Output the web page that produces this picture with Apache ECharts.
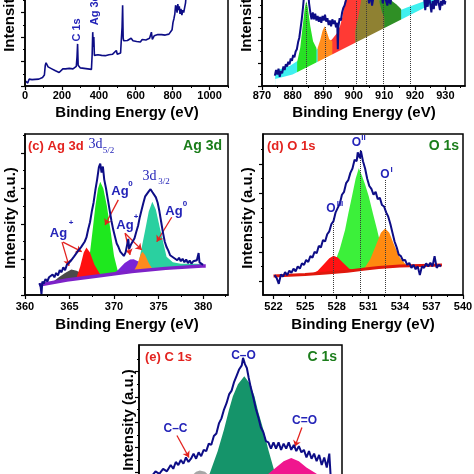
<!DOCTYPE html>
<html><head><meta charset="utf-8">
<script src="https://cdn.jsdelivr.net/npm/echarts/dist/echarts.min.js"></script>
<style>html,body{margin:0;padding:0;background:#fff}#c{width:474px;height:474px}</style>
</head><body><div id="c"></div>
<script>
// ===================== DATA =====================
// (a) survey spectrum [binding energy eV, intensity a.u.]
const surveySpectrum = [[0,0.22],[8,0.3],[15,0.12],[22,0.28],[30,0.2],[38,0.26],[45,0.2],[55,0.27],[65,0.3],[75,0.28],[85,0.34],[95,0.35],[105,0.45],[110,0.85],[114,0.95],[118,0.88],[125,0.78],[135,0.74],[145,0.7],[155,0.66],[165,0.62],[175,0.6],[185,0.55],[195,0.6],[205,0.7],[212,0.75],[220,0.7],[230,0.74],[240,0.72],[250,0.76],[260,0.7],[270,0.75],[278,0.8],[282,1.2],[285,1.72],[288,0.85],[292,0.78],[300,0.74],[310,0.76],[320,0.72],[330,0.74],[340,0.7],[350,0.72],[360,0.68],[364,1.3],[367,2.2],[370,1.6],[373,2.0],[376,1.25],[385,1.22],[395,1.28],[405,1.2],[415,1.25],[425,1.2],[435,1.24],[445,1.22],[455,1.28],[465,1.25],[475,1.3],[485,1.26],[495,1.45],[500,1.3],[510,1.3],[518,1.35],[522,1.9],[526,2.4],[529,3.3],[532,1.95],[535,1.85],[545,1.8],[555,1.86],[565,1.82],[575,1.95],[585,1.85],[595,1.9],[605,1.82],[615,1.88],[625,1.8],[635,1.9],[645,1.85],[655,1.88],[665,1.82],[675,1.95],[685,2.2],[690,1.9],[700,2.05],[710,2.0],[720,2.1],[730,2.05],[740,2.1],[750,2.02],[760,2.08],[770,2.05],[780,2.12],[790,2.1],[797,2.3],[802,2.6],[807,2.75],[812,2.95],[816,3.3],[820,3.2],[824,3.0],[828,3.35],[832,3.1],[836,3.25],[840,2.95],[845,3.15],[850,2.9],[855,3.1],[860,3.0],[865,3.2],[870,3.4],[875,3.9],[880,5],[885,5.5]];
const surveyXTicks = [0,200,400,600,800,1000];
const surveyXMinor = [100,300,500,700,900,1100];

// (b) Ce 3d
const ceSpectrum = [[874.2,0.45],[874.6,0.7],[875,0.5],[875.4,0.75],[875.8,0.4],[876.2,0.65],[876.6,0.55],[877,0.85],[877.4,0.7],[877.8,0.95],[878.2,0.85],[878.6,1.05],[879,0.95],[879.4,1.2],[879.8,1.1],[880.2,1.35],[880.6,1.25],[881,1.5],[881.4,1.6],[881.8,1.9],[882.2,2.1],[882.6,2.5],[883,2.9],[883.4,3.4],[883.8,4.0],[884.2,4.6],[884.6,4.8],[885,4.3],[885.4,3.6],[885.8,3.2],[886.2,2.9],[886.6,3.2],[887,2.9],[887.4,3.15],[887.8,2.85],[888.2,3.05],[888.6,2.8],[889,3.0],[889.4,2.75],[889.8,3.05],[890.2,2.85],[890.6,3.1],[891,2.8],[891.4,2.95],[891.8,2.65],[892.2,2.85],[892.6,2.6],[893,2.9],[893.4,2.7],[893.8,2.85],[894.2,2.55],[894.6,2.75],[894.8,1.6],[895,2.6],[895.4,2.95],[895.8,2.85],[896.2,3.2],[896.6,3.4],[897,3.5],[897.4,3.7],[897.8,4.0],[898.5,4.6],[899,5],[903,5],[903.6,4.3],[904,3.8],[904.5,4.2],[905,3.6],[905.5,4.0],[906,3.5],[906.5,3.9],[907,4.4],[908,5],[909,4.2],[909.5,3.6],[910,4.0],[911,3.5],[911.5,3.9],[912,3.55],[912.5,4.1],[913.5,5],[922,5],[923,3.9],[923.4,3.3],[923.8,3.8],[924.2,3.45],[924.6,4.0],[925,3.6],[925.4,3.2],[925.8,3.7],[926.2,3.35],[926.6,3.9],[927,3.5],[927.4,4.1],[927.8,3.6],[928.2,3.3],[928.6,3.7],[929,3.5],[929.4,3.9],[929.8,3.55],[930,3.7]];
const ceBgTop = [[874.3,0.66],[879.2,0.88],[884.6,1.35],[890.1,1.76],[895.5,2.05],[901,2.4],[906.4,2.76],[911.9,3.12],[917.4,3.42],[922.8,3.68],[929,4.05],[936.4,4.5]];
const ceBgBottom = [[874.3,0.3],[880,0.5],[936.4,4.3]];
const cePeakV0 = [[881.5,1.05],[882.5,1.65],[883.3,2.6],[884,3.4],[884.5,3.7],[885,3.4],[885.8,2.6],[886.7,1.95],[887.8,1.65]];
const cePeakV1 = [[888.2,1.65],[889,1.98],[889.8,2.4],[890.5,2.6],[891.2,2.35],[892,2.03],[893,1.95]];
const cePeakV2 = [[891.5,1.85],[893,2.05],[894.5,2.3],[895.5,2.6],[896.3,3.0],[897,3.6],[897.7,4.3],[898.5,5],[902,5],[903,4.5],[904,3.5],[905,2.85]];
const cePeakU0 = [[900.5,2.4],[901.5,3.0],[902.5,3.8],[903.5,4.6],[904.5,5],[907,5],[907.8,4.2],[908.5,3.6],[909.3,3.2],[910,3.0]];
const cePeakU1 = [[905,2.75],[906.5,3.3],[908,3.7],[909.5,3.85],[911,3.8],[912.5,3.7],[914,3.55],[915.5,3.35]];
const ceDropX = [884.4,890.6,900.8,904.0,909.5,918.4];
const ceDropTop = [3.6,2.6,4.5,4.5,4.5,3.5];
const ceXTicks = [870,880,890,900,910,920,930];
const ceXMinor = [875,885,895,905,915,925,935];

// (c) Ag 3d
const agSpectrum = [[361.6,0.33],[361.75,0.25],[361.85,0.02],[361.95,0.38],[362.1,0.32],[362.3,0.45],[362.5,0.38],[362.7,0.5],[362.9,0.45],[363.1,0.58],[363.3,0.5],[363.5,0.62],[363.7,0.55],[363.9,0.7],[364.1,0.64],[364.3,0.78],[364.5,0.7],[364.7,0.85],[364.9,0.8],[365.1,0.95],[365.3,0.92],[365.5,1.08],[365.7,1.05],[365.9,1.22],[366.1,1.2],[366.3,1.35],[366.5,1.32],[366.7,1.5],[366.9,1.62],[367.1,1.85],[367.3,2.05],[367.5,2.35],[367.7,2.6],[367.9,2.95],[368.1,3.25],[368.3,3.6],[368.45,3.7],[368.6,3.45],[368.75,3.62],[368.9,3.25],[369.1,3.0],[369.3,2.7],[369.5,2.4],[369.7,2.1],[369.9,1.85],[370.1,1.65],[370.3,1.45],[370.5,1.35],[370.7,1.22],[370.9,1.18],[371.1,1.1],[371.3,1.2],[371.5,1.25],[371.6,1.58],[371.7,1.3],[371.9,1.42],[372.1,1.45],[372.3,1.6],[372.5,1.78],[372.7,1.95],[372.9,2.2],[373.1,2.4],[373.3,2.6],[373.5,2.78],[373.7,2.85],[373.9,2.92],[374.1,2.98],[374.3,2.9],[374.5,2.95],[374.7,2.75],[374.9,2.6],[375.1,2.35],[375.3,2.05],[375.5,1.75],[375.7,1.5],[375.9,1.35],[376.1,1.25],[376.3,1.12],[376.5,1.15],[376.7,1.05],[376.9,1.1],[377.1,0.98],[377.3,1.05],[377.5,0.95],[377.7,1.02],[377.9,0.92],[378.1,1.0],[378.3,0.9],[378.5,0.97],[378.7,0.88],[378.9,0.95],[379.1,0.9],[379.3,0.98],[379.5,1.18],[379.6,0.92],[379.8,0.9],[380.0,0.85]];
const agBackground = [[361.6,0.28],[364.7,0.42],[368.4,0.54],[372.0,0.66],[375.8,0.75],[379.9,0.82],[380.3,0.82]];
const agPlus52 = [[363.2,0.38],[363.8,0.5],[364.5,0.62],[365.2,0.72],[365.8,0.68],[366.4,0.6],[367.2,0.52]];
const agPlus52b = [[365.8,0.5],[366.2,0.8],[366.6,1.2],[366.9,1.34],[367.3,1.2],[367.8,0.85],[368.4,0.6],[368.8,0.54]];
const agZero52 = [[366.9,0.55],[367.3,1.2],[367.6,1.83],[367.9,2.5],[368.2,3.0],[368.45,3.19],[368.8,3.0],[369.2,2.5],[369.6,1.83],[370.0,1.1],[370.4,0.7],[370.9,0.6]];
const agPlus32 = [[369.8,0.56],[370.5,0.72],[371.2,0.9],[371.8,1.0],[372.2,1.01],[372.8,0.94],[373.4,0.82],[374.0,0.74]];
const agPlus32b = [[372.2,0.66],[372.6,0.85],[373.0,1.15],[373.2,1.22],[373.5,1.12],[373.9,0.9],[374.3,0.74]];
const agZero32 = [[372.5,0.66],[372.9,1.08],[373.5,1.83],[373.9,2.35],[374.3,2.63],[374.7,2.4],[375.2,1.83],[375.9,1.08],[376.6,0.92],[377.5,0.88],[379,0.88],[379.9,0.87]];
const agArrows = [[[364.16,1.49],[364.94,0.82]],[[364.27,1.49],[366.37,1.22]],[[370.48,2.68],[368.99,1.97]],[[371.24,1.74],[371.80,1.13]],[[371.24,1.74],[373.11,1.27]],[[376.48,2.19],[374.80,1.50]]];
const agXTicks = [360,365,370,375,380];
const agXMinor = [362.5,367.5,372.5,377.5,382.5];

// (d) O 1s
const oSpectrum = [[522.1,1.2],[522.3,1.1],[522.5,0.9],[522.7,1.22],[522.9,1.15],[523.1,1.3],[523.3,1.2],[523.5,1.35],[523.7,1.28],[523.9,1.42],[524.1,1.33],[524.3,1.5],[524.5,1.42],[524.7,1.6],[524.9,1.55],[525.1,1.72],[525.3,1.65],[525.5,1.85],[525.7,1.8],[525.9,2.0],[526.1,1.95],[526.3,2.2],[526.5,2.15],[526.7,2.4],[526.9,2.35],[527.1,2.6],[527.3,2.7],[527.5,2.95],[527.7,3.05],[527.9,3.35],[528.1,3.5],[528.3,3.65],[528.5,3.95],[528.7,4.05],[528.9,4.35],[529.1,4.45],[529.3,4.7],[529.5,4.85],[529.7,5.15],[529.9,5.1],[530.0,5.4],[530.2,5.2],[530.3,5.45],[530.5,5.1],[530.7,4.85],[530.9,4.5],[531.1,4.25],[531.3,4.15],[531.5,3.95],[531.7,4.05],[531.9,3.8],[532.1,3.85],[532.3,3.6],[532.5,3.55],[532.7,3.35],[532.9,3.2],[533.1,2.95],[533.3,2.65],[533.5,2.35],[533.7,2.15],[533.9,1.9],[534.1,1.85],[534.3,1.7],[534.5,1.72],[534.7,1.55],[534.9,1.62],[535.1,1.45],[535.3,1.55],[535.5,1.4],[535.7,1.5],[535.9,1.2],[536.1,1.5],[536.3,1.45],[536.5,1.6],[536.7,1.5],[536.9,1.62],[537.1,1.5],[537.3,1.85],[537.5,1.45],[537.7,1.55],[537.9,1.5]];
const oBackground = [[522,1.17],[525,1.22],[527,1.27],[529,1.33],[530.5,1.4],[532,1.46],[534,1.51],[536,1.53],[538,1.55]];
const oIII = [[525.5,1.22],[526.2,1.35],[526.8,1.58],[527.3,1.78],[527.7,1.86],[528.1,1.8],[528.6,1.62],[529.2,1.42],[529.8,1.35]];
const oII = [[527.2,1.3],[527.8,1.61],[528.3,2.1],[528.8,2.75],[529.1,3.3],[529.45,3.89],[529.8,4.5],[530.1,4.86],[530.4,4.6],[530.7,4.3],[531.05,3.89],[531.45,3.3],[531.84,2.75],[532.2,2.2],[532.63,1.61],[533.1,1.45]];
const oI = [[530.6,1.42],[531.2,1.75],[531.7,2.2],[532.2,2.65],[532.6,2.8],[533.0,2.65],[533.5,2.2],[534.0,1.8],[534.6,1.55],[535.3,1.5]];
const oDropX = [527.7,530.2,532.6];
const oDropTop = [3.19,5.49,4.46];
const oXTicks = [522,525,528,531,534,537,540];
const oXMinor = [523.5,526.5,529.5,532.5,535.5,538.5];

// (e) C 1s
const cSpectrum = [[281.0,-0.15],[281.3,0.05],[281.6,-0.05],[281.9,0.15],[282.2,0.05],[282.5,0.3],[282.7,0.15],[282.9,0.42],[283.1,0.3],[283.3,0.5],[283.5,0.35],[283.7,0.6],[283.9,0.42],[284.1,0.55],[284.3,0.75],[284.5,0.55],[284.7,0.8],[284.9,0.65],[285.1,0.9],[285.3,0.85],[285.5,1.15],[285.7,1.1],[285.9,1.45],[286.1,1.55],[286.3,1.95],[286.5,2.15],[286.7,2.5],[286.9,2.75],[287.1,3.1],[287.3,3.25],[287.5,3.6],[287.7,3.85],[287.9,4.1],[288.1,4.25],[288.2,4.55],[288.35,4.3],[288.5,4.15],[288.65,3.75],[288.8,3.4],[289.0,3.0],[289.2,2.55],[289.4,2.2],[289.6,1.8],[289.8,1.6],[290.0,1.25],[290.2,1.2],[290.4,0.95],[290.6,1.2],[290.8,0.95],[291.0,1.2],[291.2,0.9],[291.4,1.15],[291.6,0.95],[291.8,1.2],[292.0,0.9],[292.2,1.1],[292.4,0.85],[292.6,1.05],[292.8,0.8],[293.0,0.9],[293.2,0.6],[293.4,0.85],[293.6,0.55],[293.8,0.75],[294.0,0.45],[294.2,0.7],[294.4,0.3],[294.6,0.6],[294.8,0.2],[295.0,0.75],[295.1,-0.1]];
const cCC = [[283.4,-0.6],[284.0,-0.2],[284.5,0.03],[284.8,0.08],[285.2,0.03],[285.7,-0.2],[286.2,-0.6]];
const cCO = [[285.0,-0.7],[285.6,0.0],[286.2,0.85],[286.7,1.71],[287.1,2.5],[287.4,3.03],[287.8,3.5],[288.3,3.82],[288.7,3.55],[289.1,3.03],[289.4,2.4],[289.8,1.71],[290.2,0.9],[290.7,0.0],[291.3,-0.7]];
const cCdO = [[289.8,-0.6],[290.2,-0.05],[290.8,0.2],[291.4,0.45],[292.0,0.58],[292.6,0.45],[293.2,0.2],[294.0,-0.05],[294.6,-0.5]];
const cArrows = [[[282.99,1.47],[283.94,0.60]],[[292.84,1.79],[292.29,1.03]]];

// y tick values (a.u.)
const yTicksA = [0,1,2,3,4], yMinorA = [0.5,1.5,2.5,3.5];
const yTicksC = [0,1,2,3,4], yMinorC = [0.5,1.5,2.5,3.5,4.5];
const yTicksD = [1,2,3,4,5], yMinorD = [1.5,2.5,3.5,4.5,5.5];
const yTicksE = [-1,0,1,2,3,4], yMinorE = [-0.5,0.5,1.5,2.5,3.5,4.5];

// ===================== CHART =====================
const FONT = '"Liberation Sans", Arial, sans-serif';
const NAVY = '#0d0d86', BLUE = '#2424b8', RED = '#e3231f', GREEN = '#1b7d1b';

function axisPair(g, pos, min, max, major, minor, labels, margin) {
  const main = {
    type: 'value', gridIndex: g, position: pos, min: min, max: max, z: 10,
    axisLine: { show: true, onZero: false, lineStyle: { color: '#000', width: 1.5 } },
    axisTick: { show: major.length > 0, inside: false, length: 4, customValues: major, lineStyle: { color: '#000', width: 1.2 } },
    axisLabel: { show: labels, customValues: major, margin: margin, color: '#000', fontSize: 11, fontWeight: 'bold', fontFamily: FONT,
      formatter: function (v) { return String(v); } },
    splitLine: { show: false }
  };
  const mn = {
    type: 'value', gridIndex: g, position: pos, min: min, max: max, z: 10,
    axisLine: { show: false, onZero: false },
    axisTick: { show: minor.length > 0, inside: false, length: 2, customValues: minor, lineStyle: { color: '#000', width: 1 } },
    axisLabel: { show: false }, splitLine: { show: false }
  };
  return [main, mn];
}

const grids = [
  { left: 25, top: -19, width: 203, height: 105 },
  { left: 262, top: -19, width: 203, height: 105 },
  { left: 25, top: 134, width: 203, height: 161 },
  { left: 263, top: 134, width: 200, height: 161 },
  { left: 139, top: 345, width: 203, height: 178 }
].map(g => Object.assign(g, { show: true, borderColor: '#000', borderWidth: 1.5, backgroundColor: 'transparent', z: 10,
  containLabel: false, outerBoundsMode: 'none' }));

const xAxes = [].concat(
  axisPair(0, 'bottom', 0, 1100, surveyXTicks, surveyXMinor, true, 4),
  axisPair(1, 'bottom', 870, 936.4, ceXTicks, ceXMinor, true, 4),
  axisPair(2, 'bottom', 360, 382.8, agXTicks, agXMinor, true, 6),
  axisPair(3, 'bottom', 521, 540, oXTicks, oXMinor, true, 6),
  axisPair(4, 'bottom', 280, 296, [], [], false, 6)
);
const yAxes = [].concat(
  axisPair(0, 'left', 0, 4.29, yTicksA, yMinorA, false, 4),
  axisPair(1, 'left', 0, 4.57, yTicksA, yMinorA, false, 4),
  axisPair(2, 'left', 0, 4.535, yTicksC, yMinorC, false, 4),
  axisPair(3, 'left', 0.52, 6.03, yTicksD, yMinorD, false, 4),
  axisPair(4, 'left', -2, 5.06, yTicksE, yMinorE, false, 4)
);

function base(g, data, z) {
  return { type: 'line', xAxisIndex: 2 * g, yAxisIndex: 2 * g, data: data, symbol: 'none', showSymbol: false,
    silent: true, animation: false, clip: true, z: z };
}
function area(g, data, color, z, line) {
  const s = base(g, data, z);
  s.areaStyle = { color: color, opacity: 1, origin: 'start' };
  s.lineStyle = line || { width: 0, opacity: 0 };
  return s;
}
function curve(g, data, color, width, z) {
  const s = base(g, data, z);
  s.lineStyle = { color: color, width: width };
  return s;
}
function drops(xs, tops, y0) {
  return { silent: true, symbol: ['none', 'none'], animation: false, label: { show: false },
    lineStyle: { type: 'dotted', color: '#3a3a3a', width: 1 },
    data: xs.map((x, i) => [{ coord: [x, y0] }, { coord: [x, tops[i]] }]) };
}
function arrows(list) {
  return { silent: true, symbol: ['none', 'arrow'], symbolSize: 6, animation: false, label: { show: false },
    lineStyle: { type: 'solid', color: '#e3231f', width: 1.3 },
    data: list.map(p => [{ coord: p[0] }, { coord: p[1] }]) };
}

const series = [];
// (a)
series.push(curve(0, surveySpectrum, NAVY, 1.6, 8));
// (b)
series.push(area(1, ceBgTop, '#3ff0ef', 2));
series.push(area(1, cePeakV2, '#ff3a34', 2.1));
series.push(area(1, cePeakU1, '#2f8f25', 2.2));
series.push(area(1, cePeakU0, '#8f8132', 2.3));
series.push(area(1, cePeakV1, '#ff8d1c', 2.4));
series.push(area(1, cePeakV0, '#27e024', 2.5));
const ceCover = area(1, ceBgBottom, '#ffffff', 3);
ceCover.markLine = drops(ceDropX, ceDropTop, 0);
series.push(ceCover);
series.push(curve(1, ceSpectrum, NAVY, 2, 8));
// (c)
series.push(area(2, agPlus52, '#4a4a4a', 2));
series.push(area(2, agZero52, '#1ee81e', 2.1));
series.push(area(2, agPlus52b, '#ff1010', 2.2));
series.push(area(2, agPlus32, '#7a24d6', 2.3));
series.push(area(2, agZero32, '#2ad0a0', 2.4));
series.push(area(2, agPlus32b, '#ff8a1e', 2.5));
series.push(area(2, agBackground, '#ffffff', 3, { color: '#7d22c8', width: 3.5 }));
const agCurve = curve(2, agSpectrum, NAVY, 2, 8);
agCurve.markLine = arrows(agArrows);
series.push(agCurve);
// (d)
series.push(area(3, oII, '#3cf03a', 2));
series.push(area(3, oIII, '#ff1212', 2.1));
series.push(area(3, oI, '#ff8a10', 2.2));
const oCover = area(3, oBackground, '#ffffff', 3, { color: '#e0180c', width: 3 });
oCover.markLine = drops(oDropX, oDropTop, 0.52);
series.push(oCover);
series.push(curve(3, oSpectrum, NAVY, 2, 8));
// (e)
series.push(area(4, cCC, '#a6a6a6', 2));
series.push(area(4, cCO, '#15946a', 2.1));
series.push(area(4, cCdO, '#f0168e', 2.2));
const cCurve = curve(4, cSpectrum, NAVY, 2, 8);
cCurve.markLine = arrows(cArrows);
series.push(cCurve);

// ---- texts ----
function txt(x, y, text, font, fill, align, rot) {
  return { type: 'text', x: x, y: y, z: 50, silent: true, rotation: rot || 0,
    style: { text: text, font: font, fill: fill || '#000', align: align || 'center', verticalAlign: 'middle' } };
}
const B15 = 'bold 15px ' + FONT, B13 = 'bold 13px ' + FONT, B14 = 'bold 14px ' + FONT, B12 = 'bold 12px ' + FONT;
const B11 = 'bold 11px ' + FONT, SUP = 'bold 8px ' + FONT, SERIF = '14px "Liberation Serif", "Times New Roman", serif', SERIFS = '9px "Liberation Serif", serif';
const R = Math.PI / 2;
const graphic = [
  txt(127, 113, 'Binding Energy (eV)', B15), txt(364, 113, 'Binding Energy (eV)', B15),
  txt(127, 325, 'Binding Energy (eV)', B15), txt(363, 325, 'Binding Energy (eV)', B15),
  txt(10, 1, 'Intensity (a.u.)', B15, '#000', 'center', R), txt(247, 1, 'Intensity (a.u.)', B15, '#000', 'center', R),
  txt(10.5, 218, 'Intensity (a.u.)', B15, '#000', 'center', R), txt(247.5, 218, 'Intensity (a.u.)', B15, '#000', 'center', R),
  txt(129, 420, 'Intensity (a.u.)', B15, '#000', 'center', R),
  txt(77, 30, 'C 1s', B11, BLUE, 'center', R), txt(95, 10, 'Ag 3d', B11, BLUE, 'center', R),
  txt(28, 146, '(c) Ag 3d', B13, RED, 'left'), txt(222, 146, 'Ag 3d', B14, GREEN, 'right'),
  txt(267, 146, '(d) O 1s', B13, RED, 'left'), txt(459, 146, 'O 1s', B14, GREEN, 'right'),
  txt(145, 357, '(e) C 1s', B13, RED, 'left'), txt(337, 357, 'C 1s', B14, GREEN, 'right'),
  txt(95.5, 144, '3d', SERIF, BLUE), txt(108.5, 151, '5/2', SERIFS, BLUE),
  txt(149.5, 176, '3d', SERIF, BLUE), txt(164, 182, '3/2', SERIFS, BLUE),
  txt(58.5, 233, 'Ag', B13, BLUE), txt(71, 223, '+', SUP, BLUE),
  txt(120, 191, 'Ag', B13, BLUE), txt(130.5, 184, '0', SUP, BLUE),
  txt(125, 225, 'Ag', B13, BLUE), txt(136, 217, '+', SUP, BLUE),
  txt(174, 211, 'Ag', B13, BLUE), txt(185, 204, '0', SUP, BLUE),
  txt(331, 209, 'O', B12, BLUE), txt(340, 204, 'III', SUP, BLUE),
  txt(356.5, 143, 'O', B12, BLUE), txt(363.5, 138, 'II', SUP, BLUE),
  txt(385, 175, 'O', B12, BLUE), txt(391.5, 170, 'I', SUP, BLUE),
  txt(243.5, 356, 'C\u2013O', B12, BLUE), txt(175.5, 429, 'C\u2013C', B12, BLUE), txt(304.5, 420.5, 'C=O', B12, BLUE)
];

const chart = echarts.init(document.getElementById('c'), null, { renderer: 'canvas' });
chart.setOption({
  animation: false,
  backgroundColor: '#fff',
  grid: grids, xAxis: xAxes, yAxis: yAxes, series: series, graphic: graphic
});
</script></body></html>
